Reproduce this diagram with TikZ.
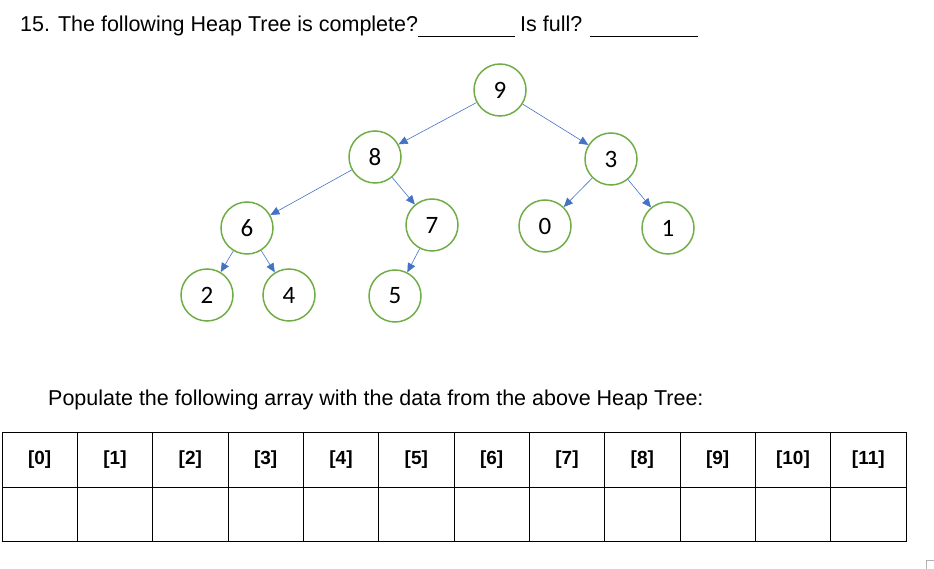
\documentclass[tikz,border=0pt]{standalone}
\usepackage{fontspec}
\setmainfont{Liberation Sans}
\newfontfamily\nodefont{Carlito}
\usetikzlibrary{arrows.meta}
\definecolor{ngreen}{RGB}{112,173,71}
\definecolor{eblue}{RGB}{68,114,196}
\begin{document}
\begin{tikzpicture}[x=1pt,y=-1pt,
  hn/.style={circle,draw=ngreen,line width=1.5pt,minimum size=52pt,inner sep=0pt,font=\nodefont\fontsize{25}{25}\selectfont},
  ed/.style={eblue,line width=0.6pt,-{Triangle[length=9pt,width=8pt]}},
  txt/.style={anchor=base west,inner sep=0pt,font=\fontsize{21.5}{24}\selectfont},
  hd/.style={font=\bfseries\fontsize{19}{21}\selectfont,inner sep=0pt}]
\useasboundingbox (0,0) rectangle (934,569);
\node[txt] (title) at (20,32) {15. The following Heap Tree is complete?};
\node[txt] (full) at (520,32) {Is full?};
\coordinate (b1s) at (418,36); \coordinate (b1e) at (515,36);
\coordinate (b2s) at (590,36); \coordinate (b2e) at (698,36);
\draw[line width=0.7pt] (b1s) -- (b1e);
\draw[line width=0.7pt] (b2s) -- (b2e);
\node[hn] (n9) at (500,90) {9};
\node[hn] (n8) at (375,157) {8};
\node[hn] (n3) at (611,159) {3};
\node[hn] (n6) at (247,228) {6};
\node[hn] (n7) at (432,225) {7};
\node[hn] (n0) at (545,226) {0};
\node[hn] (n1) at (668,228) {1};
\node[hn] (n2) at (207,295) {2};
\node[hn] (n4) at (289,295) {4};
\node[hn] (n5) at (395,296) {5};
\draw[ed] (n9) -- (n8);
\draw[ed] (n9) -- (n3);
\draw[ed] (n8) -- (n6);
\draw[ed] (n8) -- (n7);
\draw[ed] (n3) -- (n0);
\draw[ed] (n3) -- (n1);
\draw[ed] (n6) -- (n2);
\draw[ed] (n6) -- (n4);
\draw[ed] (n7) -- (n5);
\node[txt] (pop) at (48,405) {Populate the following array with the data from the above Heap Tree:};
\draw[line width=0.7pt] (2,432) rectangle (906,541);
\draw[line width=0.7pt] (2,487) -- (906,487);
\foreach \i in {1,...,11} {
  \draw[line width=0.5pt] ({2+\i*75.33},432) -- ({2+\i*75.33},541);
}
\foreach \i in {0,...,11} {
  \node[hd] (h\i) at ({2+(\i+0.5)*75.33},460) {[\i]};
}
\draw[gray!60,line width=0.5pt] (926,569) -- (926,560) -- (934,560);
\end{tikzpicture}
\end{document}
